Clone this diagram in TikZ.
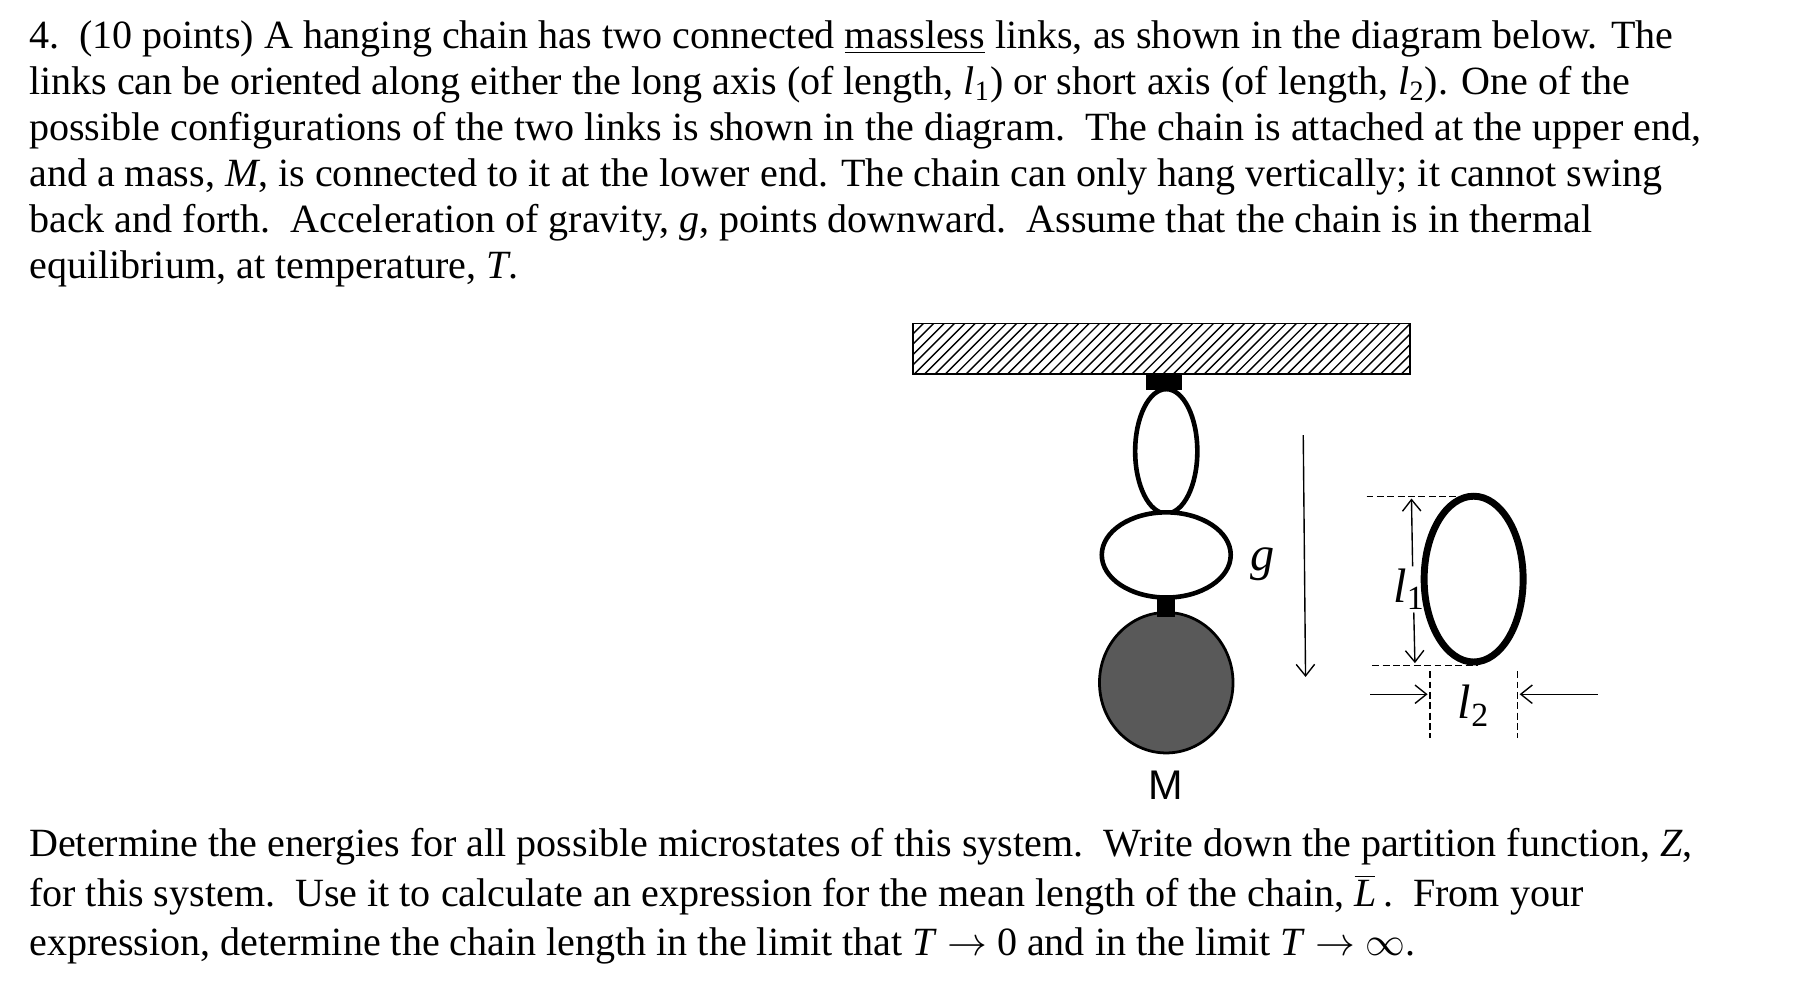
\documentclass[tikz,border=0pt]{standalone}
\usetikzlibrary{arrows.meta}
\usepackage{fontspec}
\setmainfont{Liberation Serif}
\setsansfont{Liberation Sans}
\begin{document}
\begin{tikzpicture}[x=0.5pt,y=-0.5pt,
  txt/.style={anchor=base west,inner sep=0,font=\fontsize{17.4}{20}\selectfont},
  link/.style={draw,line width=2pt,fill=white},
  barb/.style={line width=0.6pt,-{Straight Barb[length=5pt,width=8pt]}},
  dim/.style={dash pattern=on 3pt off 1.5pt,line width=0.6pt}]
\useasboundingbox (0,0) rectangle (1560,858);
\fill[white] (0,0) rectangle (1560,858);
\node[txt] (t1) at (25,42) {4.\ \ (10 points) A hanging chain has two connected \underline{massless} links, as shown in the diagram below. The};
\node[txt] (t2) at (25,82) {links can be oriented along either the long axis (of length, \textit{l}\textsubscript{1}) or short axis (of length, \textit{l}\textsubscript{2}). One of the};
\node[txt] (t3) at (25,122) {possible configurations of the two links is shown in the diagram.\ \ The chain is attached at the upper end,};
\node[txt] (t4) at (25,162) {and a mass, \textit{M}, is connected to it at the lower end. The chain can only hang vertically; it cannot swing};
\node[txt] (t5) at (25,202) {back and forth.\ \ Acceleration of gravity, \textit{g}, points downward.\ \ Assume that the chain is in thermal};
\node[txt] (t6) at (25,242) {equilibrium, at temperature, \textit{T}.};
\node[txt] (b1) at (25,744) {Determine the energies for all possible microstates of this system.\ \ Write down the partition function, \textit{Z},};
\node[txt] (b2) at (25,787) {for this system.\ \ Use it to calculate an expression for the mean length of the chain, \textit{L}\llap{\raisebox{0.72em}{\rule{0.5em}{0.5pt}}\hspace{0.05em}}\,.\ \ From your};
\node[txt] (b3) at (25,830) {expression, determine the chain length in the limit that \textit{T} $\rightarrow$ 0 and in the limit \textit{T} $\rightarrow$ $\infty$.};
% ceiling
\begin{scope}
\clip (793,281) rectangle (1225,325);
\foreach \i in {0,9,...,495} \draw[line width=0.6pt] (793+\i-44,325) -- (793+\i,281);
\end{scope}
\draw[line width=0.8pt] (793,281) rectangle (1225,325);
\fill (995,325) rectangle (1027,339);
% links
\draw[link] (1013,392) ellipse [x radius=27,y radius=54];
\draw[link] (1013,482) ellipse [x radius=56,y radius=37];
\draw[line width=1.2pt,fill=black!65] (1013,593) ellipse [x radius=58,y radius=61];
\fill (1005,517) rectangle (1021,536);
\node[font=\sffamily\fontsize{18}{20}\selectfont] (M) at (1013,682) {M};
% gravity
\node[font=\itshape\fontsize{21}{24}\selectfont] (g) at (1097,490) {g};
\coordinate (ga) at (1132,378); \coordinate (gb) at (1134,588);
\draw[barb] (ga) -- (gb);
% dimension ellipse
\draw[line width=3pt] (1280,503) ellipse [x radius=43,y radius=72];
\coordinate (d1a) at (1187,431); \coordinate (d1b) at (1270,431);
\coordinate (d2a) at (1192,578); \coordinate (d2b) at (1284,578);
\draw[dim] (d1a) -- (d1b) (d2a) -- (d2b);
\node[font=\itshape\fontsize{21}{24}\selectfont] (l1) at (1224,512) {l\textsubscript{\upshape 1}};
\draw[barb] (1227,492) -- (1226,433);
\draw[barb] (1228,532) -- (1229,576);
\coordinate (v1a) at (1242,583); \coordinate (v1b) at (1242,641);
\coordinate (v2a) at (1318,583); \coordinate (v2b) at (1318,641);
\draw[dim] (v1a) -- (v1b) (v2a) -- (v2b);
\draw[barb] (1190,603) -- (1240,603);
\draw[barb] (1388,603) -- (1320,603);
\node[font=\itshape\fontsize{21}{24}\selectfont] (l2) at (1280,613) {l\textsubscript{\upshape 2}};
\end{tikzpicture}
\end{document}
